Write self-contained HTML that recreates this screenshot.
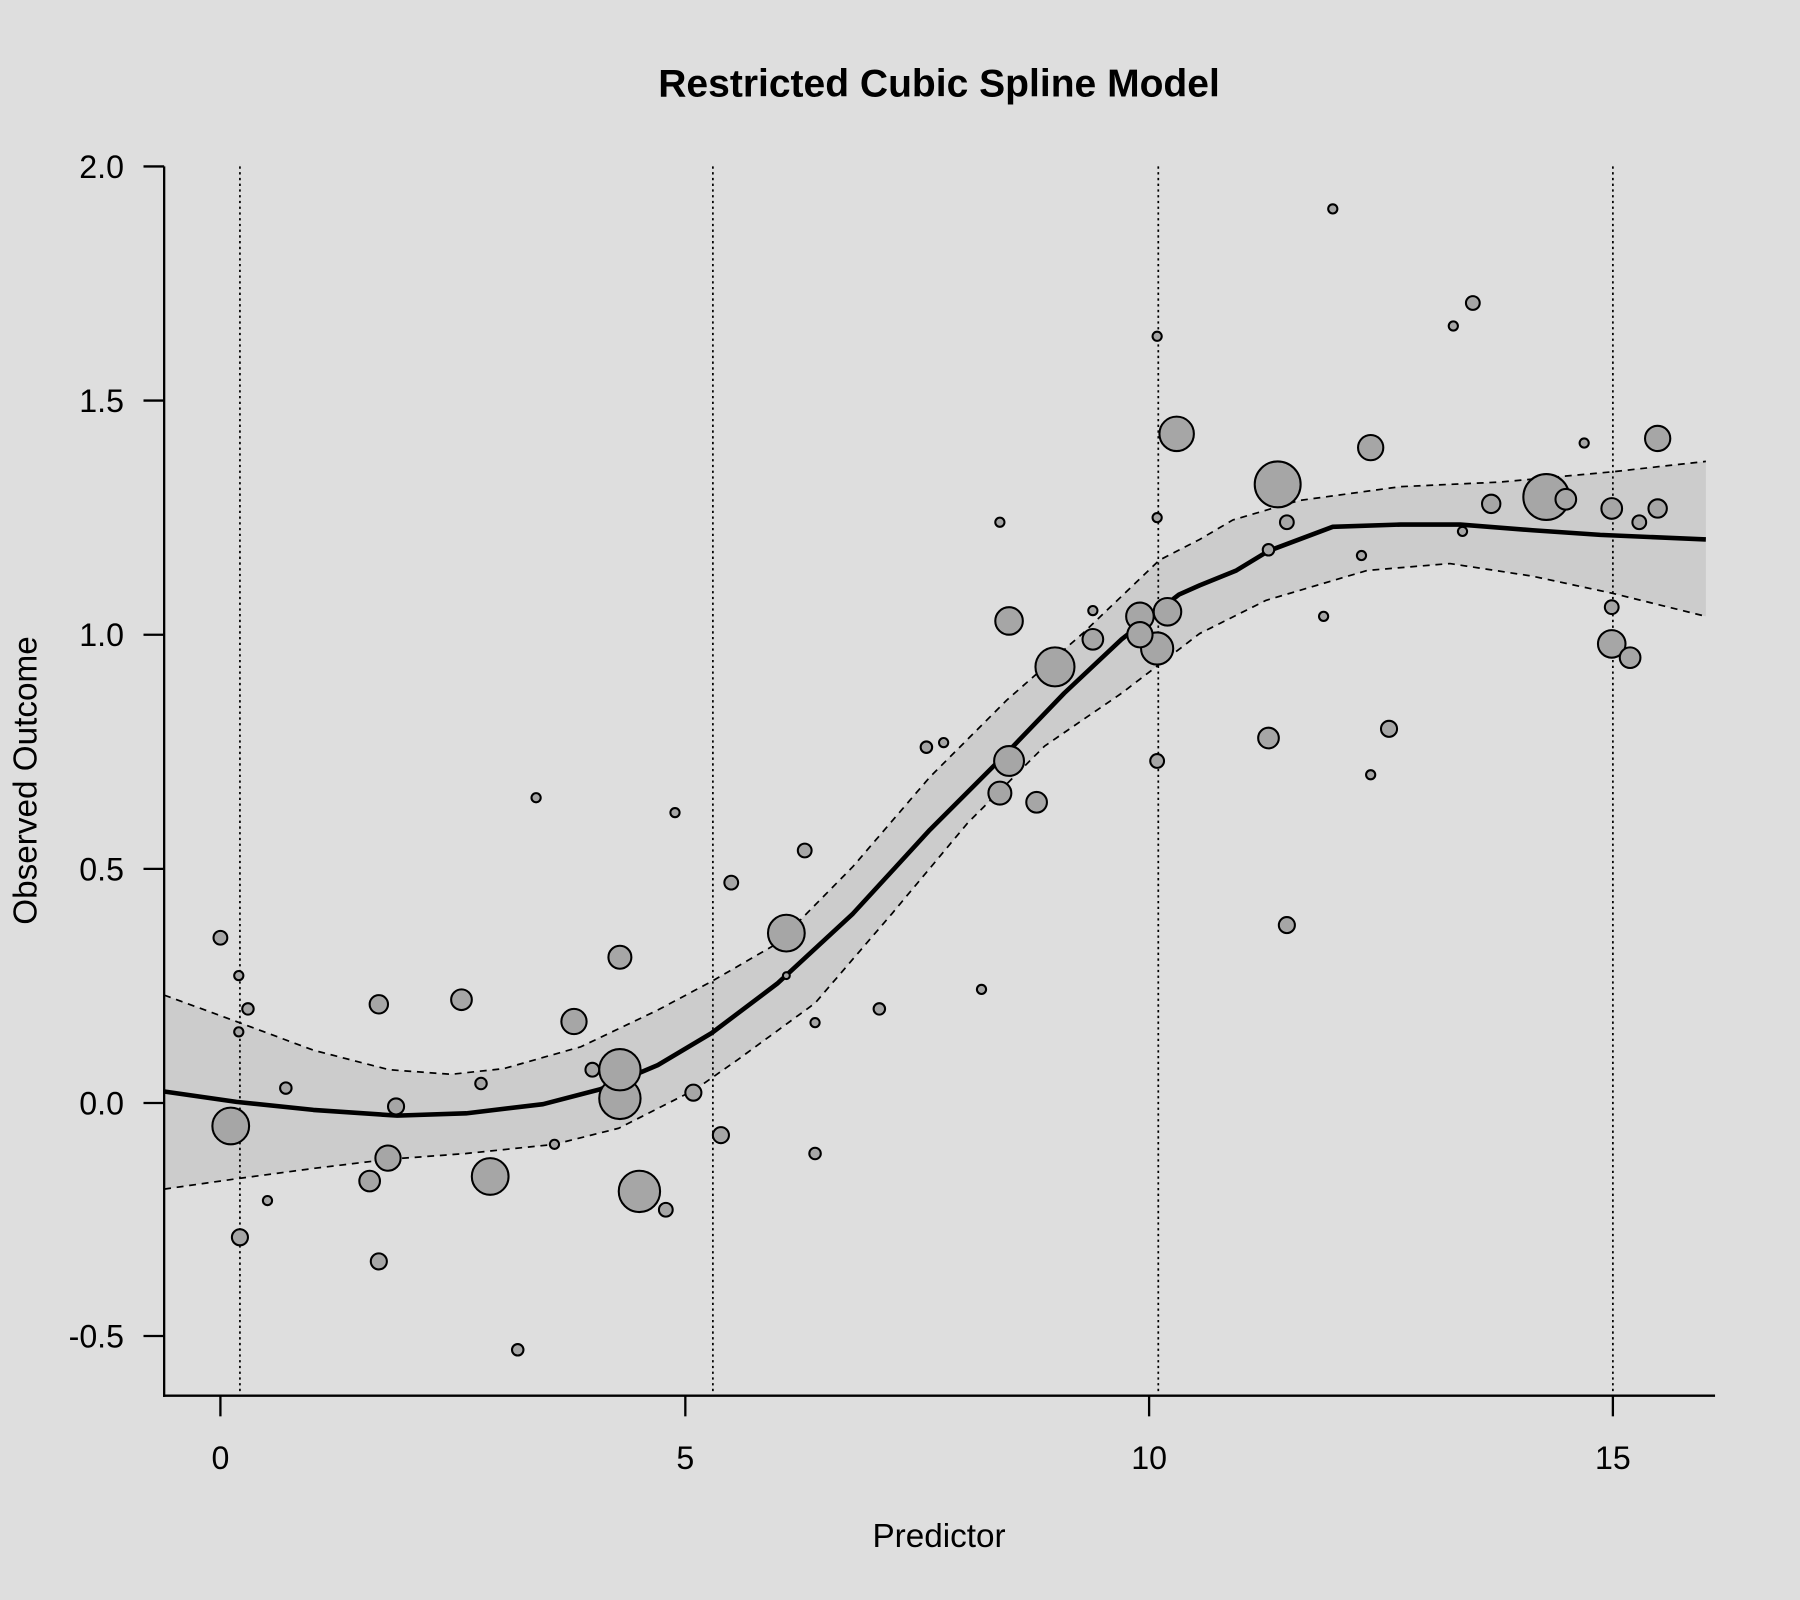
<!DOCTYPE html>
<html><head><meta charset="utf-8"><style>
html,body{margin:0;padding:0;background:#dedede;}
svg{display:block;}
text{font-family:"Liberation Sans",Arial,sans-serif;fill:#000;}
</style></head><body>
<svg width="1800" height="1600" viewBox="0 0 1568 1394" preserveAspectRatio="none">
<rect width="1568" height="1394" fill="#dedede"/>
<polygon fill="#cccccc" points="143,867 206,890 273,915 339,932 393,936 439,931 506,912 573,880 620,855 677,822 743,755 810,677 877,610 943,552 1010,488 1045,470 1074,453 1132,436 1220,424 1307,420 1405,411 1486,402 1486,537 1405,517 1335,502 1263,491 1191,497 1103,523 1045,552 977,604 910,650 843,717 777,796 710,874 643,923 606,949 539,983 483,997 406,1005 339,1010 273,1018 206,1027 143,1036"/>
<g stroke="#000" stroke-width="1.5" stroke-dasharray="6,5" fill="none" stroke-linejoin="round">
<polyline points="143,867 206,890 273,915 339,932 393,936 439,931 506,912 573,880 620,855 677,822 743,755 810,677 877,610 943,552 1010,488 1045,470 1074,453 1132,436 1220,424 1307,420 1405,411 1486,402"/>
<polyline points="143,1036 206,1027 273,1018 339,1010 406,1005 483,997 539,983 606,949 643,923 710,874 777,796 843,717 910,650 977,604 1045,552 1103,523 1191,497 1263,491 1335,502 1405,517 1486,537"/>
</g>
<g stroke="#000" stroke-width="1.5" stroke-dasharray="2,3">
<line x1="209" y1="145" x2="209" y2="1216"/><line x1="621" y1="145" x2="621" y2="1216"/>
<line x1="1009" y1="145" x2="1009" y2="1216"/><line x1="1405" y1="145" x2="1405" y2="1216"/>
</g>
<polyline fill="none" stroke="#000" stroke-width="4" stroke-linejoin="round" points="143,951 206,960 273,967 346,972 406,970 473,962 523,949 573,928 620,900 677,857 743,796 810,723 877,656 927,604 977,557 1027,518 1045,510 1077,497 1105,480 1161,459 1220,457 1272,457 1335,462 1394,466 1486,470"/>
<g fill="#a6a6a6" stroke="#000" stroke-width="1.8">
<circle cx="192" cy="817" r="6"/><circle cx="208" cy="850" r="4"/><circle cx="216" cy="879" r="5"/><circle cx="208" cy="899" r="4"/><circle cx="249" cy="948" r="5"/><circle cx="201" cy="981" r="16"/><circle cx="233" cy="1046" r="4"/><circle cx="209" cy="1078" r="7"/>
<circle cx="330" cy="875" r="8"/><circle cx="345" cy="964" r="7"/><circle cx="338" cy="1009" r="11"/><circle cx="322" cy="1029" r="9"/><circle cx="330" cy="1099" r="7"/><circle cx="402" cy="871" r="9"/><circle cx="419" cy="944" r="5"/><circle cx="427" cy="1025" r="16"/>
<circle cx="467" cy="695" r="4"/><circle cx="500" cy="890" r="11"/><circle cx="483" cy="997" r="4"/><circle cx="516" cy="932" r="6"/><circle cx="540" cy="834" r="10"/><circle cx="540" cy="957" r="18"/><circle cx="540" cy="932" r="18"/><circle cx="557" cy="1038" r="18"/><circle cx="580" cy="1054" r="6"/><circle cx="451" cy="1176" r="5"/>
<circle cx="588" cy="708" r="4"/><circle cx="604" cy="952" r="7"/><circle cx="628" cy="989" r="7"/><circle cx="637" cy="769" r="6"/><circle cx="685" cy="813" r="16"/><circle cx="685" cy="850" r="3"/><circle cx="701" cy="741" r="6"/><circle cx="710" cy="891" r="4"/><circle cx="710" cy="1005" r="5"/><circle cx="766" cy="879" r="5"/>
<circle cx="807" cy="651" r="5"/><circle cx="822" cy="647" r="4"/><circle cx="855" cy="862" r="4"/><circle cx="871" cy="455" r="4"/><circle cx="879" cy="541" r="12"/><circle cx="871" cy="691" r="10"/><circle cx="879" cy="663" r="13"/><circle cx="903" cy="699" r="9"/><circle cx="919" cy="581" r="17"/><circle cx="952" cy="532" r="4"/><circle cx="952" cy="557" r="9"/>
<circle cx="1008" cy="293" r="4"/><circle cx="1008" cy="451" r="4"/><circle cx="993" cy="537" r="12"/><circle cx="1017" cy="533" r="12"/><circle cx="1008" cy="565" r="14"/><circle cx="993" cy="553" r="11"/><circle cx="1008" cy="663" r="6"/><circle cx="1025" cy="378" r="15"/>
<circle cx="1113" cy="422" r="20"/><circle cx="1121" cy="455" r="6"/><circle cx="1105" cy="479" r="5"/><circle cx="1105" cy="643" r="9"/><circle cx="1121" cy="806" r="7"/><circle cx="1161" cy="182" r="4"/><circle cx="1153" cy="537" r="4"/><circle cx="1186" cy="484" r="4"/><circle cx="1194" cy="390" r="11"/><circle cx="1194" cy="675" r="4"/><circle cx="1210" cy="635" r="7"/>
<circle cx="1266" cy="284" r="4"/><circle cx="1283" cy="264" r="6"/><circle cx="1274" cy="463" r="4"/><circle cx="1299" cy="439" r="8"/><circle cx="1347" cy="433" r="20"/><circle cx="1364" cy="435" r="9"/><circle cx="1380" cy="386" r="4"/><circle cx="1404" cy="443" r="9"/><circle cx="1404" cy="529" r="6"/><circle cx="1404" cy="561" r="12"/><circle cx="1420" cy="573" r="9"/><circle cx="1428" cy="455" r="6"/><circle cx="1444" cy="382" r="11"/><circle cx="1444" cy="443" r="8"/>
</g>
<g stroke="#000" stroke-width="2" fill="none">
<line x1="143" y1="145" x2="143" y2="1217"/><line x1="142" y1="1216" x2="1494" y2="1216"/>
<line x1="125" y1="145" x2="143" y2="145"/><line x1="125" y1="349" x2="143" y2="349"/><line x1="125" y1="553" x2="143" y2="553"/><line x1="125" y1="757" x2="143" y2="757"/><line x1="125" y1="961" x2="143" y2="961"/><line x1="125" y1="1164" x2="143" y2="1164"/>
<line x1="192" y1="1216" x2="192" y2="1234"/><line x1="597" y1="1216" x2="597" y2="1234"/><line x1="1001" y1="1216" x2="1001" y2="1234"/><line x1="1405" y1="1216" x2="1405" y2="1234"/>
</g>
<g font-size="28" text-anchor="end">
<text x="108" y="155">2.0</text><text x="108" y="359">1.5</text><text x="108" y="563">1.0</text><text x="108" y="767">0.5</text><text x="108" y="971">0.0</text><text x="108" y="1174">-0.5</text>
</g>
<g font-size="28" text-anchor="middle">
<text x="192" y="1280">0</text><text x="597" y="1280">5</text><text x="1001" y="1280">10</text><text x="1405" y="1280">15</text>
</g>
<g font-size="29" text-anchor="middle">
<text x="818" y="1348">Predictor</text>
<text transform="translate(32,680) rotate(-90)">Observed Outcome</text>
</g>
<text x="818" y="84" font-size="34" font-weight="bold" text-anchor="middle">Restricted Cubic Spline Model</text>
</svg>
</body></html>
